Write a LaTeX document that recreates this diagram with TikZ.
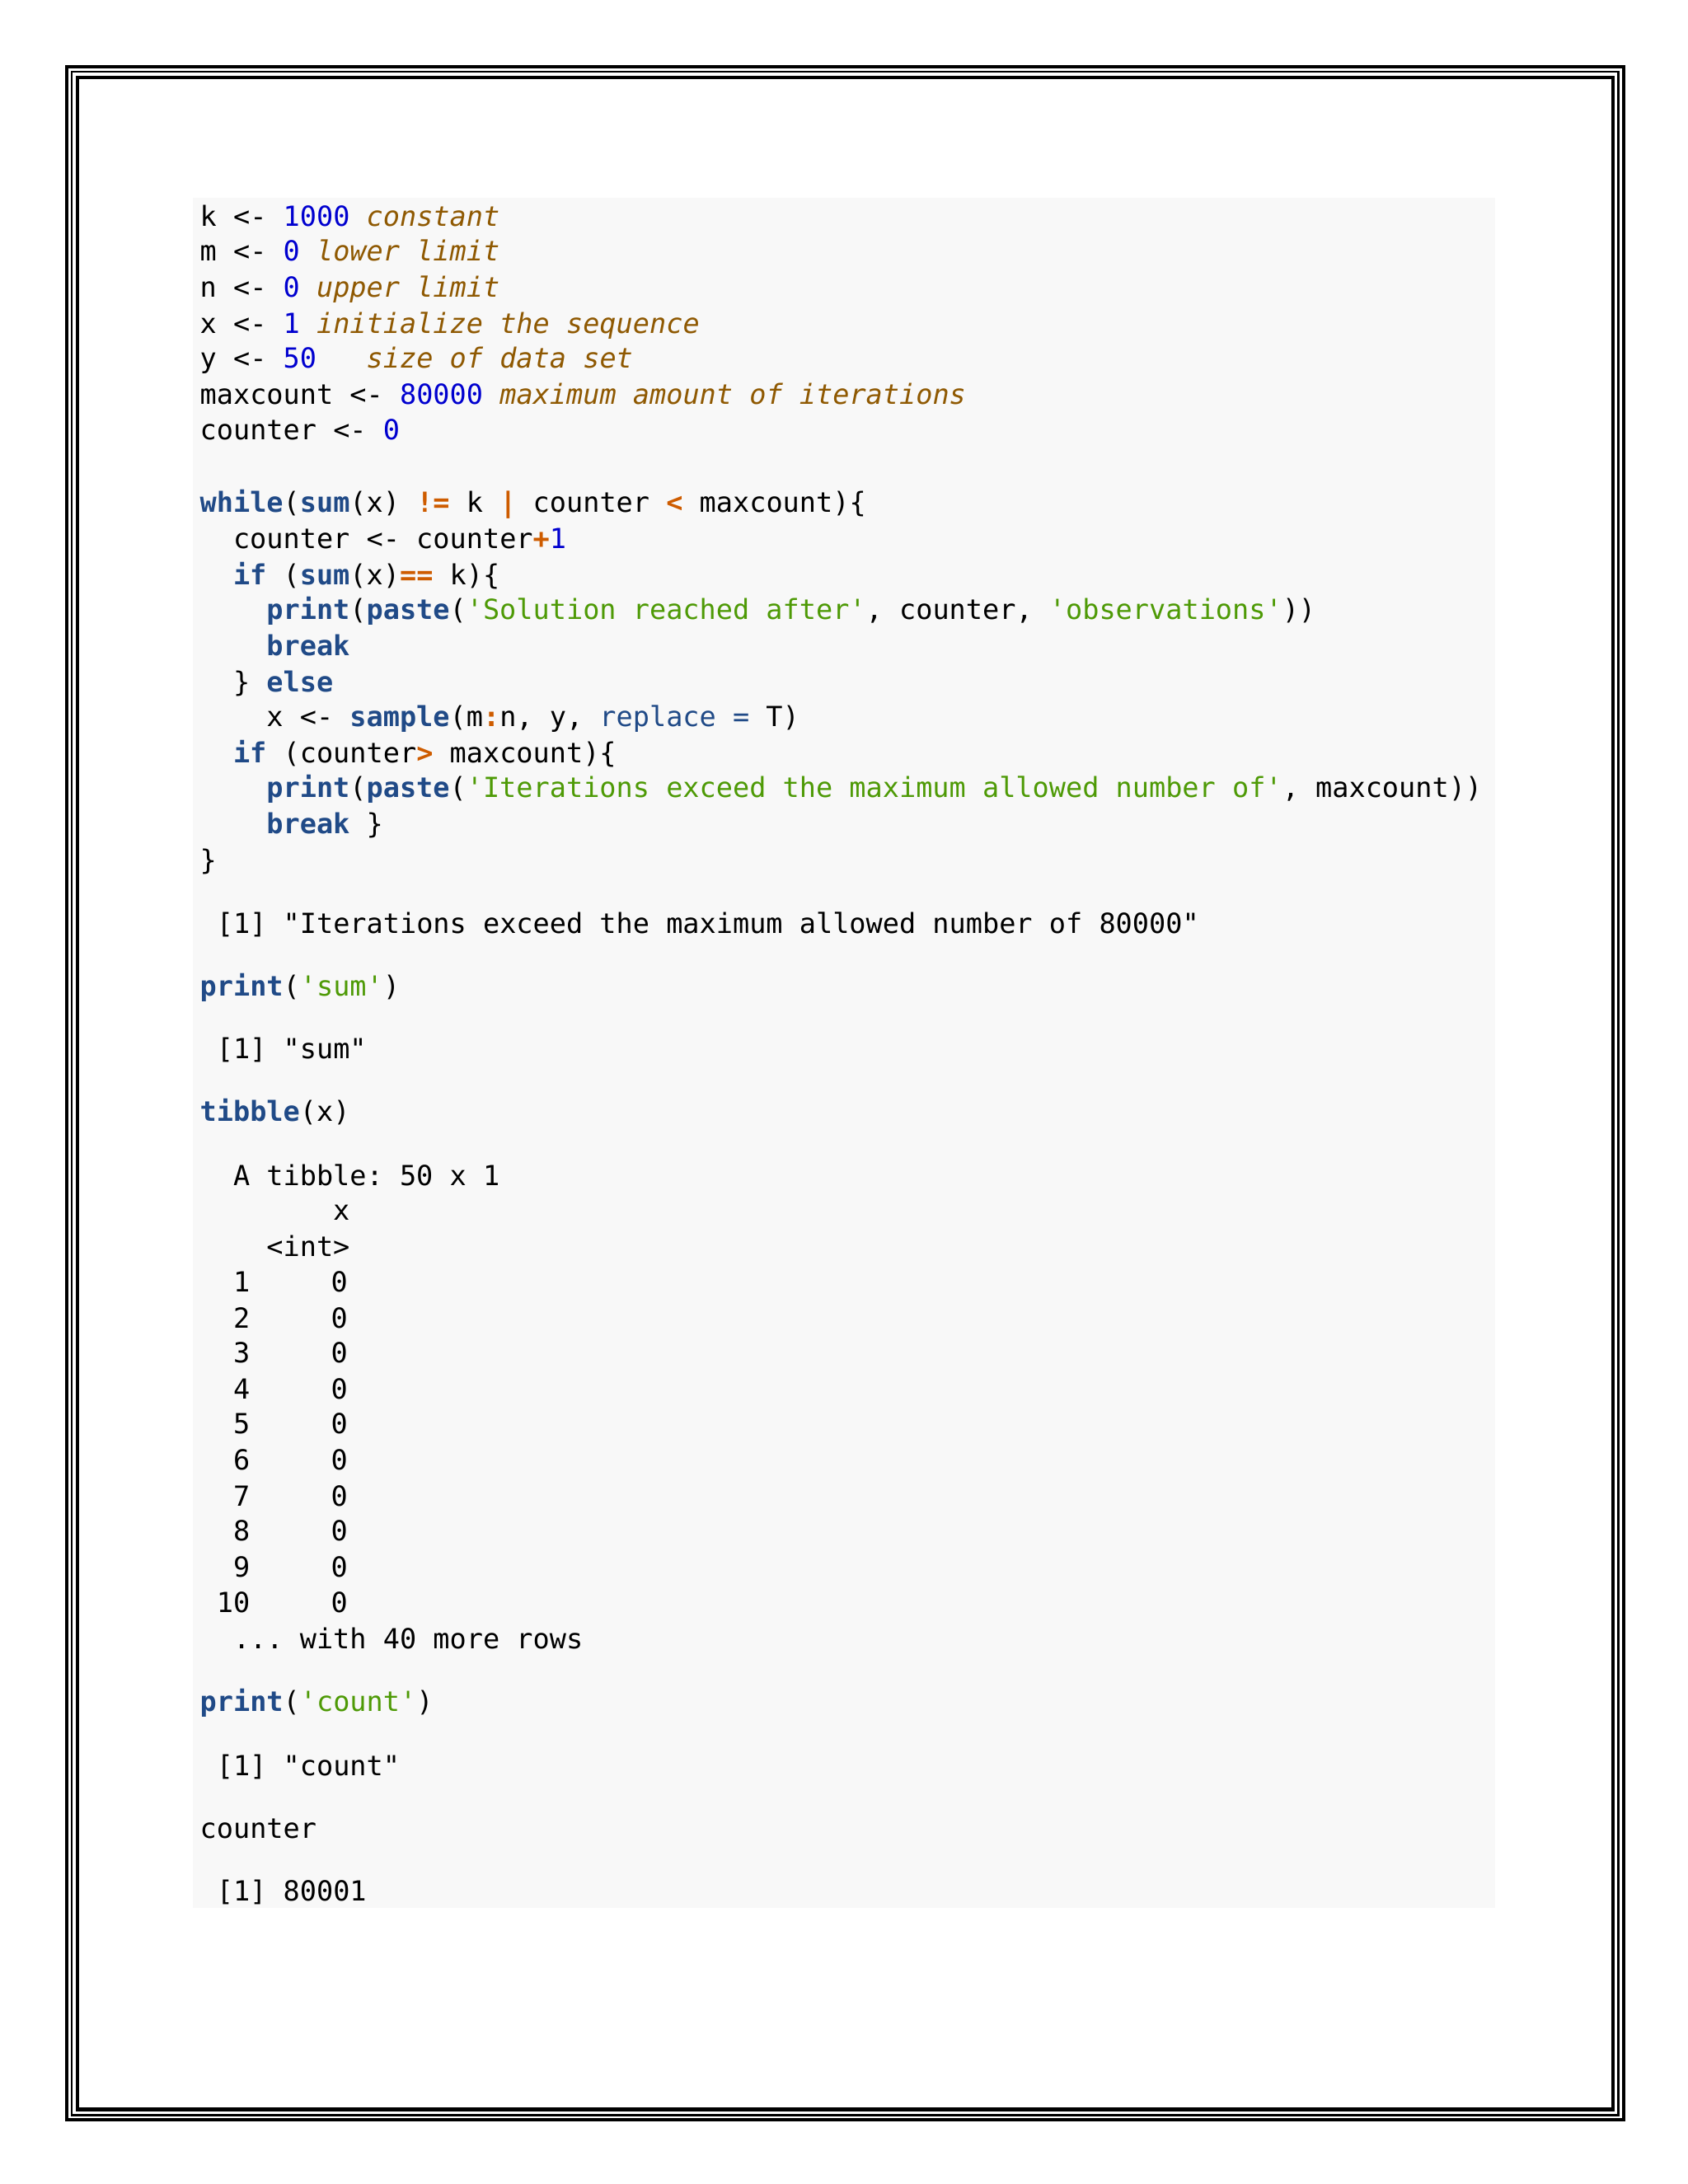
\documentclass[tikz,border=0pt]{standalone}
\usepackage{fontspec}
\setmonofont{DejaVu Sans Mono}
\definecolor{kwc}{HTML}{204A87}
\definecolor{numc}{HTML}{0000CF}
\definecolor{comc}{HTML}{8F5902}
\definecolor{strc}{HTML}{4E9A06}
\definecolor{opc}{HTML}{CE5C00}
\definecolor{bgc}{HTML}{F8F8F8}
\newcommand\rkw[1]{\textcolor{kwc}{\bfseries #1}}
\newcommand\rnum[1]{\textcolor{numc}{#1}}
\newcommand\rcom[1]{\textcolor{comc}{\itshape #1}}
\newcommand\rstr[1]{\textcolor{strc}{#1}}
\newcommand\rop[1]{\textcolor{opc}{\bfseries #1}}
\newcommand\rarg[1]{\textcolor{kwc}{#1}}
\newcommand\codeln[3]{\node[code] (L#1) at ({143+11.93*#2},#1+7) {#3};}
\begin{document}
\begin{tikzpicture}[x=0.5058pt,y=-0.5058pt,
  code/.style={anchor=base west,inner sep=0,font=\ttfamily\fontsize{10.03}{12}\selectfont},
  frameline/.style={draw=black,line width=1.2pt}]
\useasboundingbox (0,0) rectangle (1210,1566);
\fill[white] (0,0) rectangle (1210,1566);
\draw[frameline] (48,48) rectangle (1164,1520);
\draw[frameline,line width=0.8pt] (51.5,51.5) rectangle (1160.5,1516.5);
\draw[frameline] (55.5,55.5) rectangle (1156.5,1512.5);
\fill[bgc] (138,142) rectangle (1072,1368);
\codeln{155}{0}{k <- \rnum{1000} \rcom{constant}}
\codeln{180}{0}{m <- \rnum{0} \rcom{lower limit}}
\codeln{206}{0}{n <- \rnum{0} \rcom{upper limit}}
\codeln{232}{0}{x <- \rnum{1} \rcom{initialize the sequence}}
\codeln{257}{0}{y <- \rnum{50}\ \ \ \rcom{size of data set}}
\codeln{283}{0}{maxcount <- \rnum{80000} \rcom{maximum amount of iterations}}
\codeln{308}{0}{counter <- \rnum{0}}
\codeln{360}{0}{\rkw{while}(\rkw{sum}(x) \rop{!=} k \rop{|} counter \rop{<} maxcount)\{}
\codeln{386}{2}{counter <- counter\rop{+}\rnum{1}}
\codeln{412}{2}{\rkw{if} (\rkw{sum}(x)\rop{==} k)\{}
\codeln{437}{4}{\rkw{print}(\rkw{paste}(\rstr{'Solution reached after'}, counter, \rstr{'observations'}))}
\codeln{463}{4}{\rkw{break}}
\codeln{489}{2}{\} \rkw{else}}
\codeln{514}{4}{x <- \rkw{sample}(m\rop{:}n, y, \rarg{replace = }T)}
\codeln{540}{2}{\rkw{if} (counter\rop{>} maxcount)\{}
\codeln{565}{4}{\rkw{print}(\rkw{paste}(\rstr{'Iterations exceed the maximum allowed number of'}, maxcount))}
\codeln{591}{4}{\rkw{break} \}}
\codeln{617}{0}{\}}
\codeln{662}{1}{[1] "Iterations exceed the maximum allowed number of 80000"}
\codeln{707}{0}{\rkw{print}(\rstr{'sum'})}
\codeln{752}{1}{[1] "sum"}
\codeln{797}{0}{\rkw{tibble}(x)}
\codeln{843}{2}{A tibble: 50 x 1}
\codeln{868}{8}{x}
\codeln{894}{4}{<int>}
\codeln{919}{2}{1}\codeln{945}{2}{2}\codeln{970}{2}{3}\codeln{996}{2}{4}\codeln{1021}{2}{5}
\codeln{1047}{2}{6}\codeln{1073}{2}{7}\codeln{1098}{2}{8}\codeln{1124}{2}{9}\codeln{1149}{1}{10}
\foreach \yy in {919,945,970,996,1021,1047,1073,1098,1124,1149}
  \node[code] at (237,\yy+7) {0};
\codeln{1175}{2}{... with 40 more rows}
\codeln{1220}{0}{\rkw{print}(\rstr{'count'})}
\codeln{1266}{1}{[1] "count"}
\codeln{1311}{0}{counter}
\codeln{1356}{1}{[1] 80001}
\end{tikzpicture}
\end{document}
